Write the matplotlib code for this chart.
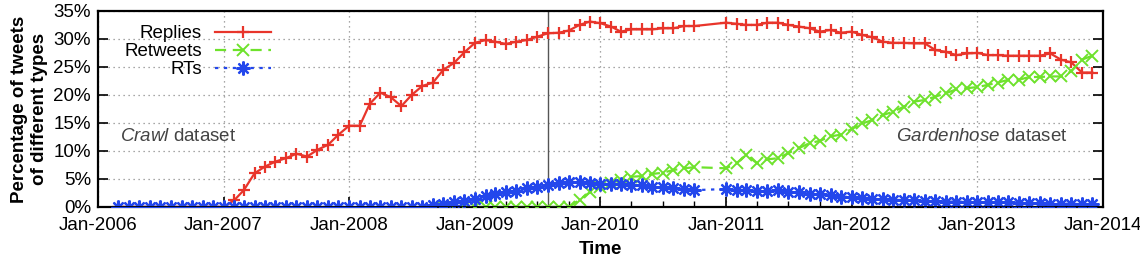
import matplotlib

matplotlib.use("Agg")
import matplotlib.pyplot as plt
import matplotlib.dates as mdates
import numpy as np
import pandas as pd
from matplotlib.ticker import FuncFormatter, MultipleLocator

plt.rcParams["font.family"] = ["Liberation Sans", "DejaVu Sans"]
plt.rcParams["mathtext.fontset"] = "custom"
plt.rcParams["mathtext.it"] = "Liberation Sans:italic"
plt.rcParams["mathtext.rm"] = "Liberation Sans"

# Monthly samples, Mar-2006 .. Dec-2013 (Nov/Dec 2010 missing in the data)
months = pd.date_range("2006-03-01", "2013-12-01", freq="MS")
months = months[~months.isin(pd.to_datetime(["2010-11-01", "2010-12-01"]))]

replies = (
    [0.0] * 11  # Mar-2006 .. Jan-2007
    + [1.2, 3.0, 6.0, 7.2, 8.1, 8.7, 9.5, 9.0, 10.2, 11.1, 12.9]
    + [14.5, 14.5, 18.4, 20.4, 19.6, 18.0, 20.0, 21.6, 22.2, 24.5, 25.7, 27.6]
    + [29.3, 29.8, 29.5, 29.1, 29.5, 29.8, 30.4, 31.0, 31.1, 31.5, 32.5, 33.1]
    + [32.8, 32.2, 31.3, 31.7, 31.7, 31.7, 31.9, 31.9, 32.3, 32.3]
    + [32.9, 32.7, 32.5, 32.5, 32.9, 32.9, 32.5, 32.2, 31.9, 31.3, 31.6, 31.1]
    + [31.3, 30.7, 30.3, 29.5, 29.3, 29.3, 29.2, 29.2, 28.0, 27.7, 27.1, 27.4]
    + [27.5, 27.1, 27.1, 27.0, 27.0, 27.0, 27.0, 27.4, 26.3, 25.8, 24.0, 24.0]
)

retweets = (
    [np.nan] * 31  # no data before Oct-2008
    + [0.0, 0.0, 0.0]
    + [0.0, 0.0, 0.0, 0.0, 0.0, 0.0, 0.0, 0.0, 0.0, 0.0, 1.3, 2.6]
    + [3.6, 4.3, 4.8, 5.4, 5.5, 5.9, 6.1, 6.6, 6.9, 7.1]
    + [6.9, 7.8, 9.3, 7.8, 8.5, 8.7, 9.6, 10.5, 11.4, 11.8, 12.6, 12.9]
    + [13.9, 14.9, 15.5, 16.4, 17.0, 17.9, 18.8, 19.1, 19.7, 20.3, 21.0, 21.2]
    + [21.4, 21.8, 22.2, 22.7, 22.7, 23.2, 23.2, 23.3, 23.3, 24.2, 26.3, 27.0]
)

rts = (
    [0.0] * 30  # Mar-2006 .. Aug-2008
    + [0.3, 0.5, 0.8, 1.0]
    + [1.4, 2.0, 2.4, 2.6, 2.9, 3.3, 3.5, 3.9, 4.2, 4.5, 4.5, 4.2]
    + [4.1, 4.1, 4.1, 3.9, 3.9, 3.6, 3.5, 3.3, 3.2, 3.0]
    + [3.2, 3.0, 3.0, 2.9, 2.9, 3.0, 2.7, 2.6, 2.4, 2.3, 2.1, 1.8]
    + [1.8, 1.55, 1.4, 1.4, 1.25, 1.25, 1.2, 1.1, 1.1, 0.95, 0.95, 0.9]
    + [0.9, 0.85, 0.8, 0.8, 0.7, 0.7, 0.65, 0.6, 0.6, 0.55, 0.5, 0.5]
)

split_date = pd.Timestamp("2009-08-01")  # Crawl -> Gardenhose switch

fig = plt.figure(figsize=(11.4, 2.66), dpi=100)
ax = fig.add_axes([0.086, 0.222, 0.8815, 0.737])

ax.plot(months, replies, color="#e8352b", lw=1.6, ls="-", marker="+",
        ms=9, mew=1.6, label="Replies", zorder=3)
ax.plot(months, retweets, color="#6ee22c", lw=1.6, ls=(0, (5, 3)), marker="x",
        ms=8, mew=1.4, label="Retweets", zorder=4)
ax.plot(months, rts, color="#2347ec", lw=1.6, ls=(0, (1.5, 2.5)), marker=(8, 2, 0),
        ms=10, mew=1.6, label="RTs", zorder=5)

ax.axhline(0, color="black", lw=1.2, zorder=6)
ax.axvline(split_date, color="#555555", lw=1.0, zorder=2)

ax.set_xlim(pd.Timestamp("2006-01-01"), pd.Timestamp("2014-01-01"))
ax.set_ylim(0, 35)
ax.yaxis.set_major_locator(MultipleLocator(5))
ax.yaxis.set_major_formatter(FuncFormatter(lambda v, _: f"{v:.0f}%"))
ax.xaxis.set_major_locator(mdates.YearLocator())
ax.xaxis.set_minor_locator(mdates.MonthLocator(bymonth=[4, 7, 10]))
ax.xaxis.set_major_formatter(mdates.DateFormatter("%b-%Y"))

ax.grid(True, which="major", color="#8a8a8a", ls=(0, (1, 3)), lw=0.9)
ax.tick_params(axis="both", which="major", direction="in", length=7, width=1.2,
               labelsize=13.5, right=True)
ax.tick_params(axis="x", which="major", pad=7)
ax.tick_params(axis="y", which="major", pad=5)
ax.tick_params(axis="x", which="minor", direction="in", length=4, width=1.0)
for s in ax.spines.values():
    s.set_linewidth(1.6)

ax.set_xlabel("Time", fontsize=13.5, fontweight="bold", labelpad=5)
ax.set_ylabel("Percentage of tweets\nof different types", fontsize=13.5,
              fontweight="bold", linespacing=1.25, labelpad=4)

ax.text(pd.Timestamp("2006-03-05"), 12.5, r"$\it{Crawl}$ dataset",
        fontsize=13.5, color="#444444", va="center", ha="left")
ax.text(pd.Timestamp("2012-05-10"), 12.5, r"$\it{Gardenhose}$ dataset",
        fontsize=13.5, color="#444444", va="center", ha="left")

# markerfirst=False puts labels on the left, right-aligned like gnuplot's key
ax.legend(loc="upper left", bbox_to_anchor=(0.015, 0.985), frameon=False,
          markerfirst=False, fontsize=13.5, handlelength=3.0,
          labelspacing=0.05, handletextpad=0.7, borderaxespad=0.2)

fig.savefig("out.png", dpi=100)
